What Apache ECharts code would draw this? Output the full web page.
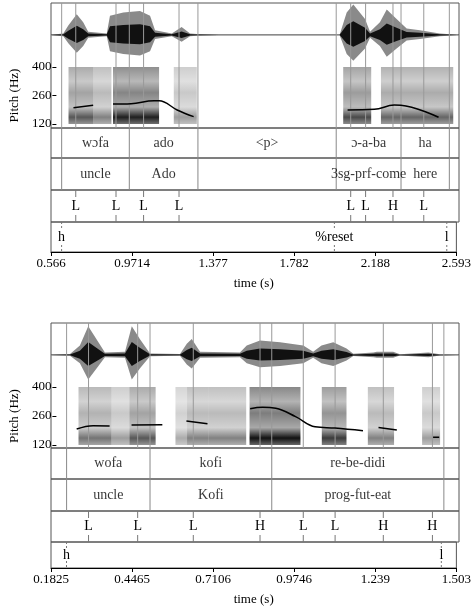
<!DOCTYPE html>
<html><head><meta charset="utf-8">
<script src="https://cdn.jsdelivr.net/npm/echarts@6/dist/echarts.min.js"></script>
<style>html,body{margin:0;padding:0;background:#fff}#c{width:474px;height:607px}</style>
</head><body><div id="c"></div>
<script>
// ---------- TOP PANEL DATA ----------
const topRange = [0.566, 2.593];
const topTicks = [0.566, 0.9714, 1.377, 1.782, 2.188, 2.593];
const topTickLabels = ['0.566', '0.9714', '1.377', '1.782', '2.188', '2.593'];
const topBounds = [0.619, 0.955, 1.296, 1.983, 2.305, 2.545];
const topWords = ['wɔfa', 'ado', '<p>', 'ɔ-a-ba', 'ha'];
const topGloss = ['uncle', 'Ado', '', '3sg-prf-come', 'here'];
const topTones = [0.689, 0.889, 1.026, 1.202, 2.055, 2.129, 2.265, 2.418];
const topToneLabels = ['L', 'L', 'L', 'L', 'L', 'L', 'H', 'L'];
const topBreaks = [0.619, 1.983, 2.545];
const topBreakLabels = ['h', '%reset', 'l'];
const topWave = [[0.566,0.01],[0.627,0.05],[0.652,0.3],[0.694,0.65],[0.726,0.4],[0.751,0.1],[0.843,0.05],[0.859,0.6],[0.925,0.7],[1.008,0.75],[1.058,0.6],[1.083,0.15],[1.166,0.05],[1.215,0.25],[1.257,0.05],[1.290,0.03],[1.4,0.01],[2.0,0.01],[2.035,0.7],[2.068,0.95],[2.126,0.5],[2.151,0.1],[2.200,0.4],[2.234,0.8],[2.283,0.5],[2.333,0.2],[2.399,0.15],[2.498,0.05],[2.582,0.01],[2.593,0.01]];
const topSpec = [[0.627,0.751,0.6],[0.751,0.843,0.45],[0.851,1.083,0.8],[1.157,1.273,0.35],[2.010,2.151,0.65],[2.200,2.564,0.55]];
const topPitchA = [[0.652,200],[0.751,212]];
const topPitchB = [[0.851,218],[0.942,220],[1.058,234],[1.083,234],[1.174,189],[1.257,156]];
const topPitchC = [[2.032,189],[2.167,192],[2.267,213],[2.300,212],[2.490,153]];

// ---------- BOTTOM PANEL DATA ----------
const botRange = [0.1825, 1.503];
const botTicks = [0.1825, 0.4465, 0.7106, 0.9746, 1.239, 1.503];
const botTickLabels = ['0.1825', '0.4465', '0.7106', '0.9746', '1.239', '1.503'];
const botBounds = [0.233, 0.503, 0.897, 1.454];
const botWords = ['wofa', 'kofi', 're-be-didi'];
const botGloss = ['uncle', 'Kofi', 'prog-fut-eat'];
const botTones = [0.304, 0.463, 0.643, 0.859, 0.999, 1.102, 1.258, 1.417];
const botToneLabels = ['L', 'L', 'L', 'H', 'L', 'L', 'H', 'H'];
const botBreaks = [0.233, 1.454];
const botBreakLabels = ['h', 'l'];
const botWave = [[0.1825,0.01],[0.244,0.03],[0.276,0.3],[0.303,0.9],[0.336,0.4],[0.357,0.08],[0.422,0.1],[0.444,0.9],[0.470,0.5],[0.503,0.05],[0.600,0.03],[0.622,0.35],[0.638,0.5],[0.665,0.1],[0.794,0.08],[0.816,0.3],[0.859,0.45],[0.924,0.4],[0.999,0.3],[1.031,0.1],[1.058,0.3],[1.096,0.4],[1.139,0.2],[1.161,0.04],[1.226,0.08],[1.237,0.1],[1.290,0.1],[1.312,0.02],[1.404,0.08],[1.441,0.02],[1.495,0.01],[1.503,0.01]];
const botSpec = [[0.255,0.363,0.5],[0.363,0.422,0.35],[0.422,0.508,0.6],[0.573,0.611,0.3],[0.611,0.681,0.45],[0.681,0.805,0.45],[0.816,0.983,0.85],[1.053,1.134,0.7],[1.204,1.290,0.45],[1.382,1.441,0.35]];
const botPitchA = [[0.249,197],[0.303,213],[0.357,212]];
const botPitchB = [[0.429,217],[0.530,218]];
const botPitchC = [[0.609,236],[0.678,223]];
const botPitchD = [[0.818,295],[0.859,302],[0.902,297],[0.967,257],[1.031,208],[1.096,202],[1.188,189]];
const botPitchE = [[1.239,205],[1.299,192]];
const botPitchF = [[1.418,157],[1.438,157]];

const pitchTicks = [120, 260, 400];
const FONT = 'Liberation Serif';

const grids = [], xAxes = [], yAxes = [], series = [];

function vlines(color) {
  return function (params, api) {
    const cs = params.coordSys;
    const x = api.coord([api.value(0), 0])[0];
    return { type: 'line', shape: { x1: x, y1: cs.y, x2: x, y2: cs.y + cs.height },
      style: { stroke: color, lineWidth: 1 } };
  };
}

function buildPanel(L) {
  const addGrid = (top, h, border) => {
    grids.push({ left: 51, right: 15, top: top, height: h, show: !!border, borderColor: '#555', borderWidth: 1, containLabel: false });
    return grids.length - 1;
  };
  const addX = (gi, extra) => { xAxes.push(Object.assign({ type: 'value', gridIndex: gi, min: L.range[0], max: L.range[1], show: false }, extra || {})); return xAxes.length - 1; };
  const addY = (gi, min, max, extra) => { yAxes.push(Object.assign({ type: 'value', gridIndex: gi, min: min, max: max, show: false }, extra || {})); return yAxes.length - 1; };

  const gS = addGrid(L.frameTop, L.tierTops[0] - L.frameTop, true);
  const xS = addX(gS), yS = addY(gS, 0, 1);
  const sigLines = L.bounds.concat(L.tones);
  series.push({ type: 'custom', xAxisIndex: xS, yAxisIndex: yS, data: sigLines.map(t => [t, 0]),
    renderItem: vlines('#999'), silent: true, z: 5 });

  const gW = addGrid(L.frameTop, L.waveH, false);
  const xW = addX(gW), yW = addY(gW, -1, 1);
  const env = L.wave;
  const wavePoly = (scale, color) => ({
    type: 'custom', xAxisIndex: xW, yAxisIndex: yW, data: [[L.range[0], 0]], silent: true, z: 3,
    renderItem: function (params, api) {
      const up = env.map(d => api.coord([d[0], d[1] * scale]));
      const dn = env.slice().reverse().map(d => api.coord([d[0], -d[1] * scale * 0.85]));
      return { type: 'polygon', shape: { points: up.concat(dn) }, style: { fill: color } };
    }
  });
  series.push(wavePoly(1, '#8a8a8a'));
  series.push(wavePoly(0.45, '#111'));
  series.push({ type: 'line', xAxisIndex: xW, yAxisIndex: yW, data: [[L.range[0], 0], [L.range[1], 0]],
    symbol: 'none', lineStyle: { color: '#666', width: 0.8 }, silent: true, z: 2 });

  const gP = addGrid(L.pitchTop, L.pitchH, false);
  const xP = addX(gP);
  const yP = addY(gP, 120, 400, {
    show: true, axisLine: { show: false },
    axisTick: { show: true, length: 4, lineStyle: { color: '#000' }, customValues: pitchTicks },
    axisLabel: { show: true, customValues: pitchTicks, fontFamily: FONT, fontSize: 13, color: '#000', margin: 5 },
    splitLine: { show: false },
    name: 'Pitch (Hz)', nameLocation: 'middle', nameGap: 33, nameRotate: 90,
    nameTextStyle: { fontFamily: FONT, fontSize: 13, color: '#000' }
  });
  series.push({ type: 'custom', xAxisIndex: xP, yAxisIndex: yP, data: L.spec, silent: true, z: 1,
    renderItem: function (params, api) {
      const d = api.value(2);
      const p0 = api.coord([api.value(0), 400]);
      const p1 = api.coord([api.value(1), 120]);
      return { type: 'rect', shape: { x: p0[0], y: p0[1], width: p1[0] - p0[0], height: p1[1] - p0[1] },
        style: { fill: new echarts.graphic.LinearGradient(0, 0, 0, 1, [
          { offset: 0, color: 'rgba(0,0,0,' + (d * 0.55) + ')' },
          { offset: 0.25, color: 'rgba(0,0,0,' + (d * 0.35) + ')' },
          { offset: 0.45, color: 'rgba(0,0,0,' + (d * 0.6) + ')' },
          { offset: 0.7, color: 'rgba(0,0,0,' + (d * 0.4) + ')' },
          { offset: 0.88, color: 'rgba(0,0,0,' + Math.min(1, d * 1.1) + ')' },
          { offset: 1, color: 'rgba(0,0,0,' + (d * 0.7) + ')' }]) } };
    }
  });
  L.pitch.forEach(seg => series.push({ type: 'line', xAxisIndex: xP, yAxisIndex: yP, data: seg, smooth: 0.4,
    symbol: 'none', lineStyle: { color: '#000', width: 1.5 }, silent: true, z: 6 }));

  const tt = L.tierTops;
  const makeIntervalTier = (k, labels) => {
    const g = addGrid(tt[k], tt[k + 1] - tt[k], true);
    const x = addX(g), y = addY(g, 0, 1);
    series.push({ type: 'custom', xAxisIndex: x, yAxisIndex: y, data: L.bounds.map(t => [t, 0]), renderItem: vlines('#888'), silent: true });
    const pts = [];
    for (let i = 0; i < labels.length; i++) if (labels[i]) pts.push({ value: [(L.bounds[i] + L.bounds[i + 1]) / 2, 0.5], name: labels[i] });
    series.push({ type: 'scatter', xAxisIndex: x, yAxisIndex: y, data: pts, symbolSize: 1, itemStyle: { color: 'rgba(0,0,0,0)' }, silent: true,
      label: { show: true, position: 'inside', formatter: p => p.name, fontFamily: FONT, fontSize: 14, color: '#000' } });
  };
  const makePointTier = (k, times, labels, dashed, extraX) => {
    const g = addGrid(tt[k], tt[k + 1] - tt[k], true);
    const x = addX(g, extraX), y = addY(g, 0, 1);
    series.push({ type: 'custom', xAxisIndex: x, yAxisIndex: y, data: times.map(t => [t, 0.5]), silent: true,
      renderItem: function (params, api) {
        const cs = params.coordSys;
        const c = api.coord([api.value(0), 0.5]);
        const ls = { stroke: '#777', lineWidth: 1, lineDash: dashed ? [2, 2] : null };
        return { type: 'group', children: [
          { type: 'line', shape: { x1: c[0], y1: cs.y, x2: c[0], y2: cs.y + 7 }, style: ls },
          { type: 'line', shape: { x1: c[0], y1: cs.y + cs.height - 7, x2: c[0], y2: cs.y + cs.height }, style: ls },
          { type: 'text', x: c[0], y: c[1], style: { text: labels[params.dataIndex], align: 'center', verticalAlign: 'middle',
            font: '14px "' + FONT + '"', fill: '#000' } }
        ] };
      } });
  };
  makeIntervalTier(0, L.words);
  makeIntervalTier(1, L.gloss);
  makePointTier(2, L.tones, L.toneLabels, false);
  makePointTier(3, L.breaks, L.breakLabels, true, {
    show: true, axisLine: { show: true, lineStyle: { color: '#000' } },
    axisTick: { show: true, length: 4, lineStyle: { color: '#000' }, customValues: L.ticks },
    axisLabel: { show: true, customValues: L.ticks, formatter: v => { const i = L.ticks.findIndex(t => Math.abs(t - v) < 1e-6); return i >= 0 ? L.tickLabels[i] : ''; },
      fontFamily: FONT, fontSize: 13, color: '#000', margin: 5, showMinLabel: true, showMaxLabel: true },
    splitLine: { show: false },
    name: 'time (s)', nameLocation: 'middle', nameGap: 25, nameTextStyle: { fontFamily: FONT, fontSize: 13, color: '#000' }
  });
}

buildPanel({ range: topRange, ticks: topTicks, tickLabels: topTickLabels, bounds: topBounds, words: topWords, gloss: topGloss,
  tones: topTones, toneLabels: topToneLabels, breaks: topBreaks, breakLabels: topBreakLabels, wave: topWave, spec: topSpec,
  pitch: [topPitchA, topPitchB, topPitchC],
  frameTop: 3, waveH: 64, pitchTop: 67, pitchH: 57, tierTops: [128, 158, 190, 222, 252] });
buildPanel({ range: botRange, ticks: botTicks, tickLabels: botTickLabels, bounds: botBounds, words: botWords, gloss: botGloss,
  tones: botTones, toneLabels: botToneLabels, breaks: botBreaks, breakLabels: botBreakLabels, wave: botWave, spec: botSpec,
  pitch: [botPitchA, botPitchB, botPitchC, botPitchD, botPitchE, botPitchF],
  frameTop: 323, waveH: 64, pitchTop: 387, pitchH: 58, tierTops: [448, 479, 511, 542, 573] });

const chart = echarts.init(document.getElementById('c'), null, { renderer: 'canvas' });
chart.setOption({ animation: false, backgroundColor: '#fff', grid: grids, xAxis: xAxes, yAxis: yAxes, series: series });
</script></body></html>
